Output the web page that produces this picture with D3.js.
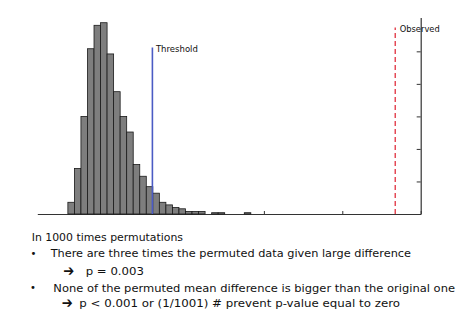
<!DOCTYPE html>
<html>
<head>
<meta charset="utf-8">
<script src="https://cdn.jsdelivr.net/npm/d3@7"></script>
<style>
  html, body { margin: 0; padding: 0; background: #fff; }
  svg { display: block; }
</style>
</head>
<body>
<svg id="chart" width="474" height="330"></svg>
<script>
// Permutation distribution of the mean difference (1000 permutations)
const binStart = -0.5;
const binWidth = 1 / 12;
const binCounts = [9, 35, 75, 127, 145, 147, 123, 94, 75, 63, 38, 29, 21, 16, 9, 7, 5, 4, 2, 2, 2, 0, 1, 1, 0, 0, 0, 1];
const xTicks = [0, 1, 2, 3, 4];
const yTicks = [25, 50, 75, 100, 125];
const thresholdValue = 0.578;
const observedValue = 3.675;
const markerLabels = ["Threshold", "Observed"];

const noteLines = [
  { kind: "text",   text: "In 1000 times permutations" },
  { kind: "bullet", text: "There are three times the permuted data given large difference" },
  { kind: "arrow",  text: "p = 0.003" },
  { kind: "bullet", text: "None of the permuted mean difference is bigger than the original one" },
  { kind: "arrow",  text: "p < 0.001 or (1/1001) # prevent p-value equal to zero" }
];

const bins = binCounts.map((c, i) => ({ x0: binStart + i * binWidth, x1: binStart + (i + 1) * binWidth, count: c }));

const svg = d3.select("#chart");

const x = d3.scaleLinear().domain([-0.89, 4]).range([37.3, 420.7]);
const y = d3.scaleLinear().domain([0, 151]).range([214, 17.5]);

// bottom axis: inward ticks, no labels
const xAxis = svg.append("g")
  .attr("transform", `translate(0,${y(0)})`)
  .call(d3.axisBottom(x).tickValues(xTicks).tickSizeInner(-3).tickSizeOuter(0).tickFormat(""));
xAxis.select(".domain").attr("stroke", "#333").attr("stroke-width", 1.2);
xAxis.selectAll(".tick line").attr("stroke", "#333");

// right axis: ticks pointing into the plot, no labels
const yAxis = svg.append("g")
  .attr("transform", `translate(${x(4)},0)`)
  .call(d3.axisLeft(y).tickValues(yTicks).tickSizeInner(4).tickSizeOuter(0).tickFormat(""));
yAxis.select(".domain").attr("stroke", "#333").attr("stroke-width", 1.2);
yAxis.selectAll(".tick line").attr("stroke", "#333");

// histogram bars
svg.append("g")
  .selectAll("rect")
  .data(bins.filter(d => d.count > 0))
  .join("rect")
  .attr("x", d => x(d.x0))
  .attr("y", d => y(d.count))
  .attr("width", d => x(d.x1) - x(d.x0))
  .attr("height", d => y(0) - y(d.count))
  .attr("fill", "#7e7e7e")
  .attr("stroke", "#1a1a1a")
  .attr("stroke-width", 0.8);

// threshold marker
svg.append("line")
  .attr("x1", x(thresholdValue)).attr("x2", x(thresholdValue))
  .attr("y1", y(0)).attr("y2", 47.5)
  .attr("stroke", "#4b5bc4").attr("stroke-width", 1.6);
svg.append("text")
  .attr("x", x(thresholdValue) + 3.5).attr("y", 52.3)
  .attr("font-family", "'DejaVu Sans', sans-serif")
  .attr("font-size", 8.5)
  .attr("textLength", 42).attr("lengthAdjust", "spacingAndGlyphs")
  .attr("fill", "#111")
  .text(markerLabels[0]);

// observed marker
svg.append("line")
  .attr("x1", x(observedValue)).attr("x2", x(observedValue))
  .attr("y1", y(0)).attr("y2", 27.5)
  .attr("stroke", "#e0303f").attr("stroke-width", 1.3)
  .attr("stroke-dasharray", "5,3");
svg.append("text")
  .attr("x", x(observedValue) + 4.5).attr("y", 32.3)
  .attr("font-family", "'DejaVu Sans', sans-serif")
  .attr("font-size", 8.5)
  .attr("textLength", 40).attr("lengthAdjust", "spacingAndGlyphs")
  .attr("fill", "#111")
  .text(markerLabels[1]);

// explanatory notes
const noteFont = "'DejaVu Sans', sans-serif";
const baselines = [240.5, 257.2, 275.3, 291.5, 307.3];
const textStarts = [31.7, 50.7, 85.7, 53.3, 79.3];
const textEnds = [183, 411, 144, 455, 400];
const markStarts = [null, 30.5, 63.3, 30, 61.7];
const notes = svg.append("g").attr("fill", "#111").attr("font-family", noteFont).attr("font-size", 11.2);

noteLines.forEach((ln, i) => {
  if (ln.kind === "bullet") {
    notes.append("text").attr("x", markStarts[i]).attr("y", baselines[i] - 0.5).attr("font-size", 10).text("•");
  }
  if (ln.kind === "arrow") {
    notes.append("text").attr("x", markStarts[i]).attr("y", baselines[i] + 0.5)
      .attr("font-size", 15).attr("font-weight", "bold")
      .attr("textLength", 11).attr("lengthAdjust", "spacingAndGlyphs")
      .text("➔");
  }
  notes.append("text")
    .attr("x", textStarts[i]).attr("y", baselines[i])
    .attr("textLength", textEnds[i] - textStarts[i])
    .attr("lengthAdjust", "spacingAndGlyphs")
    .text(ln.text);
});
</script>
</body>
</html>
